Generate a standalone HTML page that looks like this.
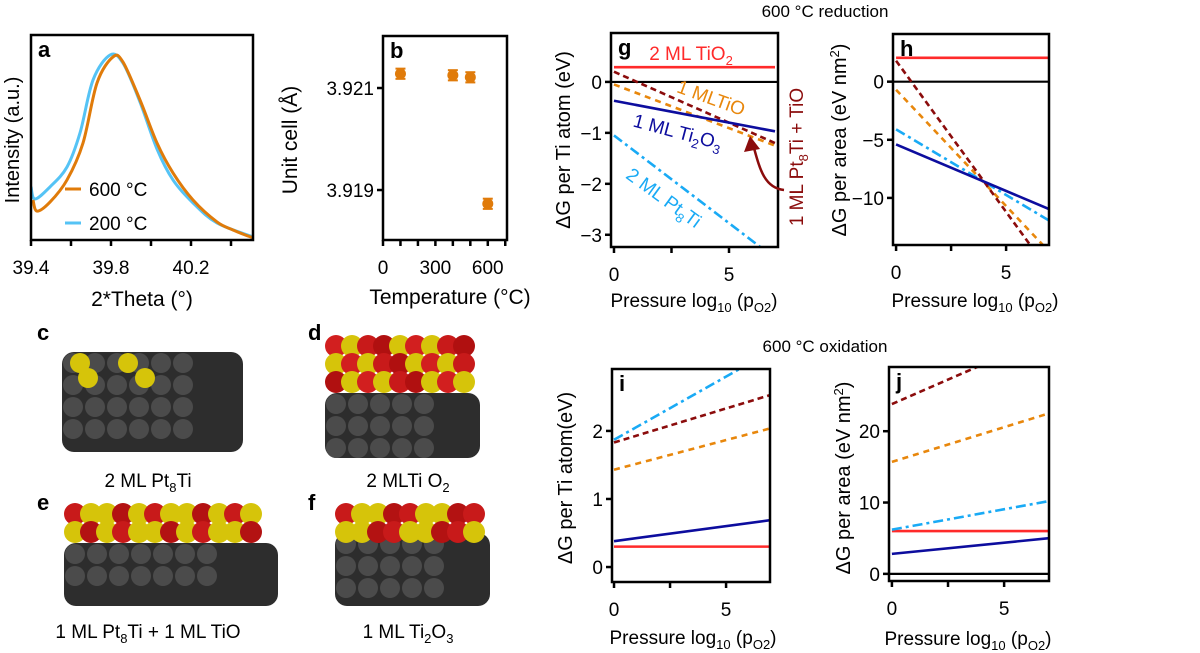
<!DOCTYPE html>
<html><head><meta charset="utf-8"><style>
html,body{margin:0;padding:0;background:#fff;}
svg{display:block;font-family:"Liberation Sans",Arial,sans-serif;}
</style></head><body>
<svg id="fig" width="1200" height="653" viewBox="0 0 1200 653" xmlns="http://www.w3.org/2000/svg">
<text x="825" y="17" font-size="17" text-anchor="middle">600 °C reduction</text>
<text x="825" y="352" font-size="17" text-anchor="middle">600 °C oxidation</text>
<g id="structs"></g>
<g id="plots"></g>
</svg>
<script>
// ---------- Panel a data ----------
const aOrangeX=[39.41,39.43,39.495,39.58,39.66,39.73,39.81,39.86,39.945,40.03,40.11,40.21,40.33,40.41,40.51];
const aOrangeY=[0.195,0.141,0.185,0.293,0.473,0.766,0.893,0.868,0.683,0.473,0.327,0.195,0.088,0.049,0.01];
const aCyanX=[39.4,39.42,39.495,39.58,39.645,39.71,39.795,39.86,39.945,40.03,40.11,40.21,40.33,40.51];
const aCyanY=[0.259,0.2,0.259,0.356,0.522,0.78,0.902,0.863,0.673,0.444,0.293,0.181,0.083,0.015];
const aXTicks=[39.4,39.6,39.8,40.0,40.2,40.4];
const aXLabels=["39.4","","39.8","","40.2",""];
// ---------- Panel b data ----------
const bTemps=[100,400,500,600];
const bCell=[3.92128,3.92125,3.92121,3.91873];
const bErr=[0.0001,0.0001,0.0001,0.0001];
const bXTicks=[0,100,200,300,400,500,600,700];
const bXLabels=["0","","","300","","","600",""];
const bYTicks=[3.921,3.919];
const bYLabels=["3.921","3.919"];
// ---------- Panel g (per Ti atom, reduction) : [value at p=0, value at p=7] ----------
const pEnds=[0,7];
const gTiO2=[0.29,0.29];
const gPtTiO=[0.2,-1.2];
const gTiO=[-0.05,-1.25];
const gTi2O3=[-0.37,-0.97];
const gPt8Ti=[-1.05,-3.46];
const gYTicks=[0,-1,-2,-3];
// ---------- Panel h (per area, reduction) ----------
const hTiO2=[2.05,2.05];
const hPtTiO=[1.8,-16.4];
const hTiO=[-0.7,-14.7];
const hTi2O3=[-5.4,-11.0];
const hPt8Ti=[-4.1,-12.0];
const hYTicks=[0,-5,-10];
// ---------- Panel i (per Ti atom, oxidation) ----------
const iTiO2=[0.3,0.3];
const iPtTiO=[1.83,2.53];
const iTiO=[1.43,2.04];
const iTi2O3=[0.38,0.69];
const iPt8Ti=[1.87,3.17];
const iYTicks=[0,1,2];
// ---------- Panel j (per area, oxidation) ----------
const jTiO2=[6.0,6.0];
const jPtTiO=[23.8,33.4];
const jTiO=[15.7,22.5];
const jTi2O3=[2.8,5.0];
const jPt8Ti=[6.2,10.2];
const jYTicks=[0,10,20];
const pXTicks=[0,2.5,5];
const pXLabels=["0","","5"];

const NS="http://www.w3.org/2000/svg";
const plots=document.getElementById('plots');
function mk(tag,attrs,parent){const e=document.createElementNS(NS,tag);for(const k in attrs)e.setAttribute(k,attrs[k]);(parent||plots).appendChild(e);return e;}
function scale(d0,d1,r0,r1){return v=>r0+(v-d0)*(r1-r0)/(d1-d0);}

function panel(o){
  const g=mk('g',{});
  
  
  const X=scale(o.xd[0],o.xd[1],o.x0,o.x1), Y=scale(o.yd[0],o.yd[1],o.y1,o.y0);
  const clipId='clip-'+o.name;
  const cp=mk('clipPath',{id:clipId},g);mk('rect',{x:o.x0,y:o.y0,width:o.x1-o.x0,height:o.y1-o.y0},cp);
  const inner=mk('g',{'clip-path':'url(#'+clipId+')'},g);
  o.draw(inner,X,Y);
  const fr=mk('rect',{x:o.x0,y:o.y0,width:o.x1-o.x0,height:o.y1-o.y0,fill:'none',stroke:'#000','stroke-width':2.5},g);
  
  
  const ax=mk('g',{},g);
  
  
  o.xt.forEach((t,i)=>{const x=X(t);mk('line',{x1:x,x2:x,y1:o.y1,y2:o.y1+6,stroke:'#000','stroke-width':2.5},ax);
    if(o.xl[i]){const tx=mk('text',{x:x,y:o.y1+34,'font-size':19,'text-anchor':'middle'},ax);tx.textContent=o.xl[i];}});
  if(o.yt){const ay=mk('g',{},g);
    
    
    o.yt.forEach((t,i)=>{const y=Y(t);mk('line',{x1:o.x0-6,x2:o.x0,y1:y,y2:y,stroke:'#000','stroke-width':2.5},ay);
    const tx=mk('text',{x:o.x0-9,y:y+7,'font-size':19,'text-anchor':'end'},ay);tx.textContent=o.yl[i].replace('-','\u2212');});}
  const lt=mk('text',{x:o.x0+7,y:o.y0+22,'font-size':22,'font-weight':'bold'},g);lt.textContent=o.letter;
  
  
  const xt=mk('text',{x:o.xtx,y:o.xty,'font-size':o.tfs||19,'text-anchor':'middle'},g);xt.innerHTML=o.xtitle;
  
  
  const yt=mk('text',{x:0,y:0,'font-size':o.yfs||20,'text-anchor':'middle',transform:`translate(${o.ytx},${o.yty}) rotate(-90)`},g);yt.innerHTML=o.ytitle;
  
  
  return {g,X,Y};
}
function poly(par,xs,ys,X,Y,col,dash,name){
  const p=mk('polyline',{points:xs.map((x,i)=>X(x)+','+Y(ys[i])).join(' '),fill:'none',stroke:col,'stroke-width':2.6,'stroke-dasharray':dash||'none'},par);
  
  
}
function smooth(par,xs,ys,X,Y,col,name){
  const P=xs.map((x,i)=>[X(x),Y(ys[i])]);
  let d='M'+P[0][0]+','+P[0][1];
  for(let i=0;i<P.length-1;i++){const p0=P[Math.max(0,i-1)],p1=P[i],p2=P[i+1],p3=P[Math.min(P.length-1,i+2)];
    const c1=[p1[0]+(p2[0]-p0[0])/6,p1[1]+(p2[1]-p0[1])/6],c2=[p2[0]-(p3[0]-p1[0])/6,p2[1]-(p3[1]-p1[1])/6];
    d+=` C${c1[0]},${c1[1]} ${c2[0]},${c2[1]} ${p2[0]},${p2[1]}`;}
  const p=mk('path',{d:d,fill:'none',stroke:col,'stroke-width':3},par);
  
  
}
const RED='#ff2a2a',DRED='#8b0c0c',ORG='#e8870c',NAVY='#0d0d9e',CYAN='#19aaf5';
function fourLines(par,X,Y,d,tag){
  poly(par,pEnds,d[0],X,Y,RED,null,tag+'-2ml-tio2');
  poly(par,pEnds,d[4],X,Y,CYAN,'10,4,3,4',tag+'-2ml-pt8ti');
  poly(par,pEnds,d[2],X,Y,ORG,'6,5',tag+'-1ml-tio');
  poly(par,pEnds,d[1],X,Y,DRED,'6,4',tag+'-1ml-pt8ti-tio');
  poly(par,pEnds,d[3],X,Y,NAVY,null,tag+'-1ml-ti2o3');
}
const ptitle='Pressure log<tspan font-size="13" dy="5">10</tspan><tspan dy="-5"> (p</tspan><tspan font-size="13" dy="5">O2</tspan><tspan dy="-5">)</tspan>';

// a
panel({name:'panel-a',letter:'a',x0:31,x1:253,y0:35,y1:240,xd:[39.4,40.51],yd:[0,1],xt:aXTicks,xl:aXLabels,
 xtitle:'2*Theta (°)',xtx:142,xty:306,tfs:21,ytitle:'Intensity (a.u.)',ytx:19,yty:140,
 draw:(p,X,Y)=>{smooth(p,aCyanX,aCyanY,X,Y,'#55c3f5','curve-200c');smooth(p,aOrangeX,aOrangeY,X,Y,'#e07b0a','curve-600c');}});
[['#e07b0a','600 °C',189,'legend-600c'],['#55c3f5','200 °C',223,'legend-200c']].forEach(l=>{
 const g=mk('g',{});
 mk('line',{x1:65,x2:81,y1:l[2],y2:l[2],stroke:l[0],'stroke-width':3},g);
 const t=mk('text',{x:89,y:l[2]+7,'font-size':19},g);t.textContent=l[1];});
// b
panel({name:'panel-b',letter:'b',x0:383,x1:507,y0:36,y1:240,xd:[0,710],yd:[3.91802,3.92202],xt:bXTicks,xl:bXLabels,yt:bYTicks,yl:bYLabels,
 xtitle:'Temperature (°C)',xtx:450,xty:304,tfs:21,ytitle:'Unit cell (Å)',ytx:297,yty:140,yfs:21,
 draw:(p,X,Y)=>{bTemps.forEach((t,i)=>{const g=mk('g',{},p);
  const x=X(t);mk('line',{x1:x,x2:x,y1:Y(bCell[i]-bErr[i]),y2:Y(bCell[i]+bErr[i]),stroke:'#e07b0a','stroke-width':2},g);
  [bCell[i]-bErr[i],bCell[i]+bErr[i]].forEach(v=>mk('line',{x1:x-5,x2:x+5,y1:Y(v),y2:Y(v),stroke:'#e07b0a','stroke-width':2},g));
  mk('circle',{cx:x,cy:Y(bCell[i]),r:5.5,fill:'#e07b0a'},g);});}});
// g
panel({name:'panel-g',letter:'g',x0:611,x1:778,y0:33,y1:247,xd:[-0.13,7.13],yd:[-3.24,0.96],xt:pXTicks,xl:pXLabels,yt:gYTicks,yl:gYTicks.map(String),
 xtitle:ptitle,xtx:694,xty:307,ytitle:'ΔG per Ti atom (eV)',ytx:570,yty:140,
 draw:(p,X,Y)=>{mk('line',{x1:X(-1),x2:X(8),y1:Y(0),y2:Y(0),stroke:'#000','stroke-width':2.2},p);fourLines(p,X,Y,[gTiO2,gPtTiO,gTiO,gTi2O3,gPt8Ti],'g');}});
// h
panel({name:'panel-h',letter:'h',x0:893,x1:1049,y0:34,y1:245,xd:[-0.14,6.95],yd:[-14.05,4.1],xt:pXTicks,xl:pXLabels,yt:hYTicks,yl:hYTicks.map(String),
 xtitle:ptitle,xtx:975,xty:307,ytitle:'ΔG per area (eV nm<tspan font-size="13" dy="-7">2</tspan><tspan dy="7">)</tspan>',ytx:846,yty:140,
 draw:(p,X,Y)=>{mk('line',{x1:X(-1),x2:X(8),y1:Y(0),y2:Y(0),stroke:'#000','stroke-width':2.2},p);fourLines(p,X,Y,[hTiO2,hPtTiO,hTiO,hTi2O3,hPt8Ti],'h');}});
// i
panel({name:'panel-i',letter:'i',x0:612,x1:770,y0:369,y1:582,xd:[-0.09,6.96],yd:[-0.22,2.91],xt:pXTicks,xl:pXLabels,yt:iYTicks,yl:iYTicks.map(String),
 xtitle:ptitle,xtx:693,xty:644,ytitle:'ΔG per Ti atom(eV)',ytx:572,yty:478,
 draw:(p,X,Y)=>{fourLines(p,X,Y,[iTiO2,iPtTiO,iTiO,iTi2O3,iPt8Ti],'i');}});
// j
panel({name:'panel-j',letter:'j',x0:889,x1:1049,y0:367,y1:581,xd:[-0.13,7.0],yd:[-1,29],xt:pXTicks,xl:pXLabels,yt:jYTicks,yl:jYTicks.map(String),
 xtitle:ptitle,xtx:968,xty:645,ytitle:'ΔG per area (eV nm<tspan font-size="13" dy="-7">2</tspan><tspan dy="7">)</tspan>',ytx:850,yty:478,
 draw:(p,X,Y)=>{mk('line',{x1:X(-1),x2:X(8),y1:Y(0),y2:Y(0),stroke:'#000','stroke-width':2.2},p);fourLines(p,X,Y,[jTiO2,jPtTiO,jTiO,jTi2O3,jPt8Ti],'j');}});

// g annotations
function lab(html,x,y,col,rot,name){const t=mk('text',{x:0,y:0,'font-size':19,fill:col,'text-anchor':'middle',transform:`translate(${x},${y}) rotate(${rot})`});t.innerHTML=html;
 }
lab('2 ML TiO<tspan font-size="13" dy="5">2</tspan>',691,60,RED,0,'label-2ml-tio2');
lab('1 MLTiO',709,104,ORG,20,'label-1ml-tio');
lab('1 ML Ti<tspan font-size="13" dy="5">2</tspan><tspan dy="-5">O</tspan><tspan font-size="13" dy="5">3</tspan>',676,138,NAVY,15,'label-1ml-ti2o3');
lab('2 ML Pt<tspan font-size="13" dy="5">8</tspan><tspan dy="-5">Ti</tspan>',660,203,CYAN,36,'label-2ml-pt8ti');
lab('1 ML Pt<tspan font-size="13" dy="5">8</tspan><tspan dy="-5">Ti + TiO</tspan>',803,157,DRED,-90,'label-1ml-pt8ti-tio');
(function(){const g=mk('g',{});
 mk('path',{d:'M784,190 C765,188 760,170 754,148',fill:'none',stroke:DRED,'stroke-width':2.5},g);
 mk('polygon',{points:'750,136 744,152 760,149',fill:DRED},g);})();

// structures
const S=document.getElementById('structs');
function struct(name,letter,lx,ly,bx,by,bw,bh,topH,topColors,label,tx,ty){
  const g=mk('g',{},S);
  const l=mk('text',{x:lx,y:ly,'font-size':22,'font-weight':'bold'},g);l.textContent=letter;
  mk('rect',{x:bx,y:by+topH,width:bw,height:bh-topH,rx:12,fill:'#2d2d2d'},g);
  const r=11;
  for(let yy=by+topH+r;yy<=by+bh-r+2;yy+=2*r){for(let xx=bx+r+((yy/ (2*r))%2?0:r);xx<bx+bw*0.7;xx+=2*r){mk('circle',{cx:xx,cy:yy,r:r-1,fill:'#4b4b4b'},g);}}
  if(topH>0){let k=0;for(let yy=by+r;yy<by+topH+3;yy+=2*r-4){for(let xx=bx+r;xx<bx+bw-r;xx+=2*r-6){mk('circle',{cx:xx,cy:yy,r:r,fill:topColors[k%topColors.length]},g);k++;}}}
  const t=mk('text',{x:tx,y:ty,'font-size':19,'text-anchor':'middle'},g);t.innerHTML=label;
}
struct('structure-c','c',37,340,62,352,181,100,0,[],'2 ML Pt<tspan font-size="13" dy="5">8</tspan><tspan dy="-5">Ti</tspan>',148,487);
[[80,363],[128,363],[88,378],[145,378]].forEach(p=>mk('circle',{cx:p[0],cy:p[1],r:10,fill:'#d6c40a'},S));
struct('structure-d','d',308,340,325,335,155,123,58,['#d21f1f','#d6c40a','#c81a1a','#b01010','#d6c40a'],'2 MLTi O<tspan font-size="13" dy="5">2</tspan>',408,487);
struct('structure-e','e',37,510,64,503,214,103,40,['#c81a1a','#d6c40a','#d6c40a','#b31212','#d6c40a'],'1 ML Pt<tspan font-size="13" dy="5">8</tspan><tspan dy="-5">Ti + 1 ML TiO</tspan>',148,638);
struct('structure-f','f',308,510,335,503,155,103,30,['#c81a1a','#d6c40a','#d6c40a','#b31212'],'1 ML Ti<tspan font-size="13" dy="5">2</tspan><tspan dy="-5">O</tspan><tspan font-size="13" dy="5">3</tspan>',408,638);
</script>
</body></html>
